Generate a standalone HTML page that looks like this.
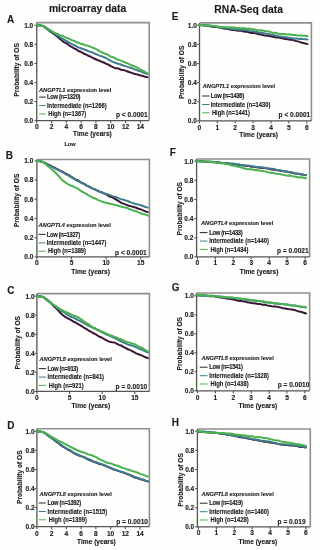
<!DOCTYPE html>
<html><head><meta charset="utf-8"><style>
html,body{margin:0;padding:0;background:#fefefd;}
svg{display:block;filter:blur(0.3px);}
text{font-family:"Liberation Sans", sans-serif;fill:#1a1a1a;font-weight:bold;stroke:#1a1a1a;stroke-width:0.12px;}
</style></head><body>
<svg width="317" height="550" viewBox="0 0 317 550">
<rect width="317" height="550" fill="#fefefd"/>
<text x="87.60" y="12.00" font-size="10.3" text-anchor="middle" >microarray data</text>
<text x="248.60" y="12.60" font-size="10.3" text-anchor="middle" >RNA-Seq data</text>
<text x="64.40" y="145.50" font-size="5.6" text-anchor="start" >Low</text>
<path d="M36.75,22.6 H149.2 V120.6" fill="none" stroke="#8e8e8e" stroke-width="1.6"/>
<path d="M36.75,22.6 V120.6 H149.2" fill="none" stroke="#555555" stroke-width="1.3"/>
<line x1="34.45" y1="120.60" x2="36.75" y2="120.60" stroke="#555555" stroke-width="1.1"/>
<text x="33.25" y="122.90" font-size="6.5" text-anchor="end" >0.0</text>
<line x1="34.45" y1="101.56" x2="36.75" y2="101.56" stroke="#555555" stroke-width="1.1"/>
<text x="33.25" y="103.86" font-size="6.5" text-anchor="end" >0.2</text>
<line x1="34.45" y1="82.52" x2="36.75" y2="82.52" stroke="#555555" stroke-width="1.1"/>
<text x="33.25" y="84.82" font-size="6.5" text-anchor="end" >0.4</text>
<line x1="34.45" y1="63.48" x2="36.75" y2="63.48" stroke="#555555" stroke-width="1.1"/>
<text x="33.25" y="65.78" font-size="6.5" text-anchor="end" >0.6</text>
<line x1="34.45" y1="44.44" x2="36.75" y2="44.44" stroke="#555555" stroke-width="1.1"/>
<text x="33.25" y="46.74" font-size="6.5" text-anchor="end" >0.8</text>
<line x1="34.45" y1="25.40" x2="36.75" y2="25.40" stroke="#555555" stroke-width="1.1"/>
<text x="33.25" y="27.70" font-size="6.5" text-anchor="end" >1.0</text>
<line x1="36.75" y1="120.60" x2="36.75" y2="123.20" stroke="#555555" stroke-width="1.1"/>
<text x="36.75" y="128.70" font-size="6.6" text-anchor="middle" >0</text>
<line x1="51.55" y1="120.60" x2="51.55" y2="123.20" stroke="#555555" stroke-width="1.1"/>
<text x="51.55" y="128.70" font-size="6.6" text-anchor="middle" >2</text>
<line x1="66.35" y1="120.60" x2="66.35" y2="123.20" stroke="#555555" stroke-width="1.1"/>
<text x="66.35" y="128.70" font-size="6.6" text-anchor="middle" >4</text>
<line x1="81.15" y1="120.60" x2="81.15" y2="123.20" stroke="#555555" stroke-width="1.1"/>
<text x="81.15" y="128.70" font-size="6.6" text-anchor="middle" >6</text>
<line x1="95.95" y1="120.60" x2="95.95" y2="123.20" stroke="#555555" stroke-width="1.1"/>
<text x="95.95" y="128.70" font-size="6.6" text-anchor="middle" >8</text>
<line x1="110.75" y1="120.60" x2="110.75" y2="123.20" stroke="#555555" stroke-width="1.1"/>
<text x="110.75" y="128.70" font-size="6.6" text-anchor="middle" >10</text>
<line x1="125.55" y1="120.60" x2="125.55" y2="123.20" stroke="#555555" stroke-width="1.1"/>
<text x="125.55" y="128.70" font-size="6.6" text-anchor="middle" >12</text>
<line x1="140.35" y1="120.60" x2="140.35" y2="123.20" stroke="#555555" stroke-width="1.1"/>
<text x="140.35" y="128.70" font-size="6.6" text-anchor="middle" >14</text>
<text x="92.40" y="135.90" font-size="6.6" text-anchor="middle" >Time (years)</text>
<text x="0.00" y="0.00" font-size="6.6" text-anchor="middle" transform="translate(19.15,69.90) rotate(-90)">Probability of OS</text>
<text x="6.90" y="23.00" font-size="10" text-anchor="start" >A</text>
<path d="M36.75,25.30 L40.00,25.50 L43.50,26.10 L45.85,27.84 L48.20,29.90 L50.55,31.58 L52.90,33.20 L55.30,35.02 L57.70,37.00 L59.80,38.80 L61.90,40.54 L64.00,42.20 L66.04,43.20 L68.08,44.43 L70.12,46.18 L72.16,47.10 L74.20,48.50 L76.33,49.42 L78.45,50.95 L80.58,51.71 L82.70,52.80 L84.76,54.04 L86.82,54.87 L88.88,56.00 L90.94,56.75 L93.00,58.00 L95.16,58.98 L97.32,60.02 L99.48,60.71 L101.64,61.74 L103.80,62.50 L105.96,63.68 L108.12,64.40 L110.28,65.89 L112.44,66.87 L114.60,67.90 L116.76,68.32 L118.92,68.70 L121.08,69.74 L123.24,70.04 L125.40,70.60 L127.56,71.45 L129.72,72.27 L131.88,72.89 L134.04,73.73 L136.20,74.20 L138.46,74.74 L140.72,75.58 L142.98,75.97 L145.24,76.86 L147.50,77.20" fill="none" stroke="#3a1736" stroke-width="2.0" stroke-linejoin="round" stroke-linecap="round"/>
<path d="M36.75,25.30 L40.00,25.50 L43.50,26.10 L45.85,28.03 L48.20,29.50 L50.55,30.76 L52.90,32.50 L55.30,33.93 L57.70,35.80 L59.80,36.86 L61.90,38.55 L64.00,39.50 L66.47,40.90 L68.93,42.44 L71.40,43.80 L73.90,44.95 L76.40,46.34 L78.90,47.60 L80.91,48.25 L82.93,48.94 L84.94,49.79 L86.96,50.51 L88.97,51.41 L90.99,51.99 L93.00,52.60 L95.16,53.76 L97.32,54.61 L99.48,55.59 L101.64,56.30 L103.80,57.10 L105.96,57.98 L108.12,59.48 L110.28,60.62 L112.44,61.66 L114.60,62.50 L116.76,63.26 L118.92,64.07 L121.08,64.49 L123.24,65.58 L125.40,66.10 L127.56,66.86 L129.72,67.41 L131.88,68.00 L134.04,69.19 L136.20,69.70 L138.46,70.89 L140.72,71.25 L142.98,72.58 L145.24,73.25 L147.50,74.20" fill="none" stroke="#3f7c8c" stroke-width="2.0" stroke-linejoin="round" stroke-linecap="round"/>
<path d="M36.75,25.30 L40.00,25.50 L43.50,26.10 L45.85,27.34 L48.20,29.00 L50.55,30.28 L52.90,31.80 L55.30,33.16 L57.70,34.20 L59.80,35.22 L61.90,35.53 L64.00,36.60 L66.13,37.64 L68.27,38.26 L70.40,39.50 L72.53,40.46 L74.65,41.05 L76.78,42.20 L78.90,42.80 L80.91,43.80 L82.93,44.23 L84.94,45.24 L86.96,45.54 L88.97,46.12 L90.99,47.15 L93.00,47.80 L95.16,48.62 L97.32,49.82 L99.48,51.04 L101.64,52.27 L103.80,53.30 L105.96,54.03 L108.12,54.91 L110.28,56.34 L112.44,56.95 L114.60,58.00 L116.76,59.18 L118.92,60.04 L121.08,60.63 L123.24,61.58 L125.40,62.50 L127.56,63.41 L129.72,64.39 L131.88,65.26 L134.04,66.14 L136.20,67.00 L138.46,68.33 L140.72,69.78 L142.98,70.78 L145.24,72.00 L147.50,73.30" fill="none" stroke="#48b24e" stroke-width="2.0" stroke-linejoin="round" stroke-linecap="round"/>
<text transform="translate(39.00,91.60) scale(0.91,1)" font-size="6.264"><tspan font-style="italic">ANGPTL1</tspan> expression level</text>
<line x1="39.20" y1="97.10" x2="45.80" y2="97.10" stroke="#3a1736" stroke-width="1.0"/>
<text transform="translate(47.00,99.20) scale(0.91,1)" font-size="6.373626373626373" text-anchor="start" letter-spacing="-0.33">Low (n=1320)</text>
<line x1="39.20" y1="105.60" x2="45.80" y2="105.60" stroke="#3f7c8c" stroke-width="1.0"/>
<text transform="translate(47.00,107.70) scale(0.91,1)" font-size="6.373626373626373" text-anchor="start" >Intermediate (n=1266)</text>
<line x1="39.20" y1="113.90" x2="45.80" y2="113.90" stroke="#48b24e" stroke-width="1.0"/>
<text transform="translate(48.20,116.00) scale(0.91,1)" font-size="6.373626373626373" text-anchor="start" >High (n=1367)</text>
<text transform="translate(147.70,117.30) scale(0.87,1)" font-size="7.586206896551724" text-anchor="end" >p &lt; 0.0001</text>
<path d="M36.9,159.5 H149.4 V256.9" fill="none" stroke="#8e8e8e" stroke-width="1.6"/>
<path d="M36.9,159.5 V256.9 H149.4" fill="none" stroke="#555555" stroke-width="1.3"/>
<line x1="34.60" y1="256.90" x2="36.90" y2="256.90" stroke="#555555" stroke-width="1.1"/>
<text x="33.40" y="259.20" font-size="6.5" text-anchor="end" >0.0</text>
<line x1="34.60" y1="237.68" x2="36.90" y2="237.68" stroke="#555555" stroke-width="1.1"/>
<text x="33.40" y="239.98" font-size="6.5" text-anchor="end" >0.2</text>
<line x1="34.60" y1="218.46" x2="36.90" y2="218.46" stroke="#555555" stroke-width="1.1"/>
<text x="33.40" y="220.76" font-size="6.5" text-anchor="end" >0.4</text>
<line x1="34.60" y1="199.24" x2="36.90" y2="199.24" stroke="#555555" stroke-width="1.1"/>
<text x="33.40" y="201.54" font-size="6.5" text-anchor="end" >0.6</text>
<line x1="34.60" y1="180.02" x2="36.90" y2="180.02" stroke="#555555" stroke-width="1.1"/>
<text x="33.40" y="182.32" font-size="6.5" text-anchor="end" >0.8</text>
<line x1="34.60" y1="160.80" x2="36.90" y2="160.80" stroke="#555555" stroke-width="1.1"/>
<text x="33.40" y="163.10" font-size="6.5" text-anchor="end" >1.0</text>
<line x1="36.90" y1="256.90" x2="36.90" y2="259.50" stroke="#555555" stroke-width="1.1"/>
<text x="36.90" y="265.20" font-size="6.6" text-anchor="middle" >0</text>
<line x1="71.50" y1="256.90" x2="71.50" y2="259.50" stroke="#555555" stroke-width="1.1"/>
<text x="71.50" y="265.20" font-size="6.6" text-anchor="middle" >5</text>
<line x1="106.10" y1="256.90" x2="106.10" y2="259.50" stroke="#555555" stroke-width="1.1"/>
<text x="106.10" y="265.20" font-size="6.6" text-anchor="middle" >10</text>
<line x1="140.70" y1="256.90" x2="140.70" y2="259.50" stroke="#555555" stroke-width="1.1"/>
<text x="140.70" y="265.20" font-size="6.6" text-anchor="middle" >15</text>
<text x="90.60" y="273.60" font-size="6.6" text-anchor="middle" >Time (years)</text>
<text x="0.00" y="0.00" font-size="6.6" text-anchor="middle" transform="translate(19.15,200.45) rotate(-90)">Probability of OS</text>
<text x="5.70" y="158.90" font-size="10" text-anchor="start" >B</text>
<path d="M36.90,161.00 L40.00,161.30 L43.50,162.20 L45.85,163.53 L48.20,164.60 L50.55,165.64 L52.90,167.00 L55.30,168.03 L57.70,169.30 L59.80,170.69 L61.90,171.51 L64.00,172.60 L66.32,174.01 L68.64,175.07 L70.96,176.69 L73.28,178.17 L75.60,179.50 L77.77,180.36 L79.95,181.87 L82.12,183.03 L84.30,183.84 L86.47,185.33 L88.65,186.38 L90.83,187.66 L93.00,188.70 L95.16,189.55 L97.32,190.70 L99.48,191.66 L101.64,192.17 L103.80,193.40 L105.96,194.18 L108.12,195.59 L110.28,196.80 L112.44,197.41 L114.60,198.60 L117.00,200.07 L119.40,201.66 L121.80,203.10 L124.20,203.89 L126.60,204.82 L129.00,205.80 L131.40,206.35 L133.80,207.05 L136.20,207.80 L138.52,208.72 L140.84,209.40 L143.16,210.31 L145.48,211.40 L147.80,212.10" fill="none" stroke="#3a1736" stroke-width="2.0" stroke-linejoin="round" stroke-linecap="round"/>
<path d="M36.90,161.00 L40.00,161.30 L43.50,162.20 L45.85,163.17 L48.20,164.70 L50.55,165.99 L52.90,167.20 L55.30,168.54 L57.70,169.60 L59.80,170.62 L61.90,171.70 L64.00,173.00 L66.32,174.54 L68.64,175.56 L70.96,176.89 L73.28,178.40 L75.60,179.80 L77.77,181.03 L79.95,181.79 L82.12,183.03 L84.30,184.15 L86.47,185.56 L88.65,186.44 L90.83,187.80 L93.00,188.70 L95.16,189.40 L97.32,190.40 L99.48,191.49 L101.64,192.53 L103.80,193.20 L105.96,193.89 L108.12,194.48 L110.28,195.13 L112.44,196.10 L114.60,196.80 L116.76,197.33 L118.92,198.42 L121.08,199.16 L123.24,199.49 L125.40,200.40 L127.56,200.99 L129.72,202.02 L131.88,202.65 L134.04,203.46 L136.20,204.00 L138.52,204.63 L140.84,205.22 L143.16,206.04 L145.48,207.06 L147.80,207.60" fill="none" stroke="#3f7c8c" stroke-width="2.0" stroke-linejoin="round" stroke-linecap="round"/>
<path d="M36.90,161.00 L40.00,161.30 L43.50,162.30 L45.85,164.26 L48.20,166.50 L50.55,168.26 L52.90,170.20 L55.30,172.55 L57.70,175.00 L60.05,177.60 L62.40,180.30 L65.20,182.20 L68.00,184.20 L70.53,185.59 L73.07,186.26 L75.60,187.60 L77.77,188.57 L79.95,190.39 L82.12,191.62 L84.30,192.94 L86.47,193.87 L88.65,195.45 L90.83,196.69 L93.00,197.70 L95.16,198.43 L97.32,199.65 L99.48,200.60 L101.64,201.40 L103.80,202.20 L105.96,202.75 L108.12,203.15 L110.28,203.72 L112.44,204.20 L114.60,204.90 L116.76,205.18 L118.92,206.03 L121.08,206.39 L123.24,207.25 L125.40,207.60 L127.56,208.05 L129.72,209.28 L131.88,209.88 L134.04,210.73 L136.20,211.20 L138.52,212.34 L140.84,213.24 L143.16,213.95 L145.48,214.51 L147.80,215.70" fill="none" stroke="#48b24e" stroke-width="2.0" stroke-linejoin="round" stroke-linecap="round"/>
<text transform="translate(38.50,226.90) scale(0.91,1)" font-size="6.264"><tspan font-style="italic">ANGPTL4</tspan> expression level</text>
<line x1="38.50" y1="234.40" x2="45.50" y2="234.40" stroke="#3a1736" stroke-width="1.0"/>
<text transform="translate(46.70,236.50) scale(0.91,1)" font-size="6.373626373626373" text-anchor="start" letter-spacing="-0.33">Low (n=1327)</text>
<line x1="38.50" y1="242.90" x2="45.50" y2="242.90" stroke="#3f7c8c" stroke-width="1.0"/>
<text transform="translate(46.70,245.00) scale(0.91,1)" font-size="6.373626373626373" text-anchor="start" >Intermediate (n=1447)</text>
<line x1="38.50" y1="251.20" x2="45.50" y2="251.20" stroke="#48b24e" stroke-width="1.0"/>
<text transform="translate(47.90,253.30) scale(0.91,1)" font-size="6.373626373626373" text-anchor="start" >High (n=1389)</text>
<text transform="translate(146.80,255.00) scale(0.87,1)" font-size="7.586206896551724" text-anchor="end" >p &lt; 0.0001</text>
<path d="M36.9,293.6 H149.4 V391.4" fill="none" stroke="#8e8e8e" stroke-width="1.6"/>
<path d="M36.9,293.6 V391.4 H149.4" fill="none" stroke="#555555" stroke-width="1.3"/>
<line x1="34.60" y1="391.40" x2="36.90" y2="391.40" stroke="#555555" stroke-width="1.1"/>
<text x="34.60" y="394.30" font-size="6.5" text-anchor="end" >0.0</text>
<line x1="34.60" y1="372.34" x2="36.90" y2="372.34" stroke="#555555" stroke-width="1.1"/>
<text x="34.60" y="375.24" font-size="6.5" text-anchor="end" >0.2</text>
<line x1="34.60" y1="353.28" x2="36.90" y2="353.28" stroke="#555555" stroke-width="1.1"/>
<text x="34.60" y="356.18" font-size="6.5" text-anchor="end" >0.4</text>
<line x1="34.60" y1="334.22" x2="36.90" y2="334.22" stroke="#555555" stroke-width="1.1"/>
<text x="34.60" y="337.12" font-size="6.5" text-anchor="end" >0.6</text>
<line x1="34.60" y1="315.16" x2="36.90" y2="315.16" stroke="#555555" stroke-width="1.1"/>
<text x="34.60" y="318.06" font-size="6.5" text-anchor="end" >0.8</text>
<line x1="34.60" y1="296.10" x2="36.90" y2="296.10" stroke="#555555" stroke-width="1.1"/>
<text x="34.60" y="299.00" font-size="6.5" text-anchor="end" >1.0</text>
<line x1="36.90" y1="391.40" x2="36.90" y2="394.00" stroke="#555555" stroke-width="1.1"/>
<text x="36.90" y="399.90" font-size="6.6" text-anchor="middle" >0</text>
<line x1="69.55" y1="391.40" x2="69.55" y2="394.00" stroke="#555555" stroke-width="1.1"/>
<text x="69.55" y="399.90" font-size="6.6" text-anchor="middle" >5</text>
<line x1="102.20" y1="391.40" x2="102.20" y2="394.00" stroke="#555555" stroke-width="1.1"/>
<text x="102.20" y="399.90" font-size="6.6" text-anchor="middle" >10</text>
<line x1="134.85" y1="391.40" x2="134.85" y2="394.00" stroke="#555555" stroke-width="1.1"/>
<text x="134.85" y="399.90" font-size="6.6" text-anchor="middle" >15</text>
<text x="90.80" y="407.70" font-size="6.6" text-anchor="middle" >Time (years)</text>
<text x="0.00" y="0.00" font-size="6.6" text-anchor="middle" transform="translate(20.15,342.75) rotate(-90)">Probability of OS</text>
<text x="7.20" y="293.60" font-size="10" text-anchor="start" >C</text>
<path d="M36.90,296.10 L40.00,296.40 L43.50,297.10 L45.85,299.15 L48.20,300.90 L50.55,302.85 L52.90,305.20 L55.30,307.43 L57.70,309.90 L60.05,312.50 L62.40,314.90 L66.00,317.40 L68.40,318.69 L70.80,319.90 L73.20,321.49 L75.60,322.50 L77.77,323.88 L79.95,325.03 L82.12,326.29 L84.30,327.97 L86.47,329.05 L88.65,330.54 L90.83,331.60 L93.00,333.00 L95.16,334.00 L97.32,335.38 L99.48,336.73 L101.64,337.52 L103.80,338.90 L106.50,340.43 L109.20,341.60 L111.90,342.30 L114.60,342.50 L116.76,343.76 L118.92,344.85 L121.08,345.44 L123.24,346.90 L125.40,347.90 L127.56,349.20 L129.72,349.79 L131.88,351.00 L134.04,352.08 L136.20,353.30 L138.54,354.28 L140.88,355.17 L143.22,356.16 L145.56,357.31 L147.90,358.10" fill="none" stroke="#3a1736" stroke-width="2.0" stroke-linejoin="round" stroke-linecap="round"/>
<path d="M36.90,296.10 L40.00,296.40 L43.50,297.10 L45.85,298.60 L48.20,300.70 L50.55,302.43 L52.90,304.70 L55.30,306.28 L57.70,308.30 L61.20,310.90 L63.30,311.94 L65.40,313.17 L67.50,314.70 L69.62,316.08 L71.75,317.11 L73.88,317.75 L76.00,319.10 L78.12,320.20 L80.25,321.19 L82.38,322.29 L84.50,323.41 L86.62,324.69 L88.75,325.75 L90.88,326.72 L93.00,327.90 L95.16,328.77 L97.32,329.92 L99.48,330.85 L101.64,332.17 L103.80,333.20 L105.96,334.33 L108.12,335.13 L110.28,335.95 L112.44,337.01 L114.60,338.20 L116.76,339.16 L118.92,340.34 L121.08,341.49 L123.24,342.29 L125.40,343.40 L127.56,344.34 L129.72,344.99 L131.88,345.64 L134.04,346.36 L136.20,347.20 L138.54,348.24 L140.88,349.40 L143.22,350.27 L145.56,351.48 L147.90,352.40" fill="none" stroke="#3f7c8c" stroke-width="2.0" stroke-linejoin="round" stroke-linecap="round"/>
<path d="M36.90,296.10 L40.00,296.40 L43.50,297.10 L45.85,298.78 L48.20,300.50 L50.55,302.20 L52.90,304.20 L55.30,305.92 L57.70,307.60 L59.80,308.95 L61.90,309.81 L64.00,311.30 L66.32,312.23 L68.64,313.22 L70.96,314.47 L73.28,315.48 L75.60,316.20 L79.20,318.00 L81.50,319.49 L83.80,321.37 L86.10,322.87 L88.40,324.12 L90.70,325.81 L93.00,327.40 L95.16,328.17 L97.32,329.59 L99.48,330.50 L101.64,331.63 L103.80,332.40 L105.96,333.48 L108.12,334.30 L110.28,335.24 L112.44,336.04 L114.60,336.90 L116.76,337.56 L118.92,338.75 L121.08,339.30 L123.24,340.29 L125.40,341.40 L127.56,342.28 L129.72,342.57 L131.88,343.32 L134.04,344.04 L136.20,345.00 L138.54,346.49 L140.88,347.33 L143.22,348.49 L145.56,350.24 L147.90,351.30" fill="none" stroke="#48b24e" stroke-width="2.0" stroke-linejoin="round" stroke-linecap="round"/>
<text transform="translate(39.50,361.20) scale(0.91,1)" font-size="6.264"><tspan font-style="italic">ANGPTL5</tspan> expression level</text>
<line x1="38.80" y1="368.60" x2="46.10" y2="368.60" stroke="#3a1736" stroke-width="1.0"/>
<text transform="translate(47.60,370.70) scale(0.91,1)" font-size="6.373626373626373" text-anchor="start" letter-spacing="-0.33">Low (n=913)</text>
<line x1="38.80" y1="377.10" x2="46.10" y2="377.10" stroke="#3f7c8c" stroke-width="1.0"/>
<text transform="translate(47.60,379.20) scale(0.91,1)" font-size="6.373626373626373" text-anchor="start" >Intermediate (n=841)</text>
<line x1="38.80" y1="385.40" x2="46.10" y2="385.40" stroke="#48b24e" stroke-width="1.0"/>
<text transform="translate(48.80,387.50) scale(0.91,1)" font-size="6.373626373626373" text-anchor="start" >High (n=921)</text>
<text transform="translate(147.30,389.10) scale(0.87,1)" font-size="7.586206896551724" text-anchor="end" >p = 0.0010</text>
<path d="M36.9,428.8 H149.4 V526.6" fill="none" stroke="#8e8e8e" stroke-width="1.6"/>
<path d="M36.9,428.8 V526.6 H149.4" fill="none" stroke="#555555" stroke-width="1.3"/>
<line x1="34.60" y1="526.60" x2="36.90" y2="526.60" stroke="#555555" stroke-width="1.1"/>
<text x="34.60" y="529.40" font-size="6.5" text-anchor="end" >0.0</text>
<line x1="34.60" y1="507.56" x2="36.90" y2="507.56" stroke="#555555" stroke-width="1.1"/>
<text x="34.60" y="510.36" font-size="6.5" text-anchor="end" >0.2</text>
<line x1="34.60" y1="488.52" x2="36.90" y2="488.52" stroke="#555555" stroke-width="1.1"/>
<text x="34.60" y="491.32" font-size="6.5" text-anchor="end" >0.4</text>
<line x1="34.60" y1="469.48" x2="36.90" y2="469.48" stroke="#555555" stroke-width="1.1"/>
<text x="34.60" y="472.28" font-size="6.5" text-anchor="end" >0.6</text>
<line x1="34.60" y1="450.44" x2="36.90" y2="450.44" stroke="#555555" stroke-width="1.1"/>
<text x="34.60" y="453.24" font-size="6.5" text-anchor="end" >0.8</text>
<line x1="34.60" y1="431.40" x2="36.90" y2="431.40" stroke="#555555" stroke-width="1.1"/>
<text x="34.60" y="434.20" font-size="6.5" text-anchor="end" >1.0</text>
<line x1="36.90" y1="526.60" x2="36.90" y2="529.20" stroke="#555555" stroke-width="1.1"/>
<text x="36.90" y="535.90" font-size="6.6" text-anchor="middle" >0</text>
<line x1="51.64" y1="526.60" x2="51.64" y2="529.20" stroke="#555555" stroke-width="1.1"/>
<text x="51.64" y="535.90" font-size="6.6" text-anchor="middle" >2</text>
<line x1="66.38" y1="526.60" x2="66.38" y2="529.20" stroke="#555555" stroke-width="1.1"/>
<text x="66.38" y="535.90" font-size="6.6" text-anchor="middle" >4</text>
<line x1="81.12" y1="526.60" x2="81.12" y2="529.20" stroke="#555555" stroke-width="1.1"/>
<text x="81.12" y="535.90" font-size="6.6" text-anchor="middle" >6</text>
<line x1="95.86" y1="526.60" x2="95.86" y2="529.20" stroke="#555555" stroke-width="1.1"/>
<text x="95.86" y="535.90" font-size="6.6" text-anchor="middle" >8</text>
<line x1="110.60" y1="526.60" x2="110.60" y2="529.20" stroke="#555555" stroke-width="1.1"/>
<text x="110.60" y="535.90" font-size="6.6" text-anchor="middle" >10</text>
<line x1="125.34" y1="526.60" x2="125.34" y2="529.20" stroke="#555555" stroke-width="1.1"/>
<text x="125.34" y="535.90" font-size="6.6" text-anchor="middle" >12</text>
<line x1="140.08" y1="526.60" x2="140.08" y2="529.20" stroke="#555555" stroke-width="1.1"/>
<text x="140.08" y="535.90" font-size="6.6" text-anchor="middle" >14</text>
<text x="96.40" y="543.60" font-size="6.6" text-anchor="middle" >Time (years)</text>
<text x="0.00" y="0.00" font-size="6.6" text-anchor="middle" transform="translate(21.85,477.15) rotate(-90)">Probability of OS</text>
<text x="7.20" y="428.90" font-size="10" text-anchor="start" >D</text>
<path d="M36.90,431.30 L40.00,431.50 L43.50,432.30 L45.85,433.72 L48.20,435.60 L50.55,437.46 L52.90,438.90 L55.30,440.90 L57.70,442.70 L60.07,444.57 L62.43,446.30 L64.80,447.70 L66.96,449.01 L69.12,450.40 L71.28,451.20 L73.44,452.90 L75.60,454.00 L78.00,454.97 L80.40,456.06 L82.80,456.90 L84.84,457.60 L86.88,458.93 L88.92,459.98 L90.96,460.40 L93.00,461.60 L95.16,462.21 L97.32,463.08 L99.48,463.96 L101.64,464.33 L103.80,465.20 L105.96,465.91 L108.12,466.85 L110.28,467.97 L112.44,468.95 L114.60,469.70 L116.76,470.38 L118.92,471.10 L121.08,471.86 L123.24,472.57 L125.40,473.40 L127.56,474.23 L129.72,474.91 L131.88,476.04 L134.04,477.20 L136.20,477.80 L138.54,478.47 L140.88,479.39 L143.22,479.76 L145.56,480.79 L147.90,481.40" fill="none" stroke="#3a1736" stroke-width="2.0" stroke-linejoin="round" stroke-linecap="round"/>
<path d="M36.90,431.30 L40.00,431.50 L43.50,432.30 L45.85,434.00 L48.20,435.40 L50.55,437.10 L52.90,438.60 L55.30,440.46 L57.70,442.30 L60.07,443.99 L62.43,445.79 L64.80,447.40 L66.96,448.90 L69.12,449.71 L71.28,450.94 L73.44,452.59 L75.60,453.70 L78.00,454.92 L80.40,455.64 L82.80,456.60 L84.84,457.49 L86.88,458.57 L88.92,459.17 L90.96,460.14 L93.00,461.20 L95.16,461.78 L97.32,462.77 L99.48,463.37 L101.64,464.08 L103.80,465.00 L105.96,466.01 L108.12,467.07 L110.28,467.58 L112.44,468.72 L114.60,469.50 L116.76,470.17 L118.92,471.15 L121.08,471.71 L123.24,472.24 L125.40,473.10 L127.56,473.83 L129.72,474.61 L131.88,475.79 L134.04,476.63 L136.20,477.60 L138.54,478.12 L140.88,478.96 L143.22,479.65 L145.56,480.64 L147.90,481.20" fill="none" stroke="#3f7c8c" stroke-width="2.0" stroke-linejoin="round" stroke-linecap="round"/>
<path d="M36.90,431.30 L40.00,431.50 L43.50,432.30 L45.85,433.24 L48.20,434.60 L50.55,436.34 L52.90,437.50 L55.30,438.89 L57.70,440.30 L59.80,441.36 L61.90,442.28 L64.00,443.30 L66.32,444.74 L68.64,445.97 L70.96,447.05 L73.28,448.25 L75.60,449.50 L78.00,450.53 L80.40,451.51 L82.80,452.20 L84.84,452.86 L86.88,453.78 L88.92,454.64 L90.96,455.06 L93.00,455.80 L95.16,456.72 L97.32,457.80 L99.48,459.17 L101.64,460.23 L103.80,461.20 L105.96,462.24 L108.12,462.93 L110.28,463.33 L112.44,464.05 L114.60,465.00 L116.76,465.58 L118.92,466.25 L121.08,467.28 L123.24,468.10 L125.40,468.60 L127.56,469.56 L129.72,469.89 L131.88,470.98 L134.04,471.37 L136.20,472.20 L138.54,473.05 L140.88,474.14 L143.22,474.65 L145.56,475.56 L147.90,476.70" fill="none" stroke="#48b24e" stroke-width="2.0" stroke-linejoin="round" stroke-linecap="round"/>
<text transform="translate(39.50,495.90) scale(0.91,1)" font-size="6.264"><tspan font-style="italic">ANGPTL8</tspan> expression level</text>
<line x1="38.80" y1="503.00" x2="45.80" y2="503.00" stroke="#3a1736" stroke-width="1.0"/>
<text transform="translate(47.60,505.10) scale(0.91,1)" font-size="6.373626373626373" text-anchor="start" letter-spacing="-0.33">Low (n=1392)</text>
<line x1="38.80" y1="511.50" x2="45.80" y2="511.50" stroke="#3f7c8c" stroke-width="1.0"/>
<text transform="translate(47.60,513.60) scale(0.91,1)" font-size="6.373626373626373" text-anchor="start" >Intermediate (n=1515)</text>
<line x1="38.80" y1="519.80" x2="45.80" y2="519.80" stroke="#48b24e" stroke-width="1.0"/>
<text transform="translate(48.80,521.90) scale(0.91,1)" font-size="6.373626373626373" text-anchor="start" >High (n=1399)</text>
<text transform="translate(148.00,523.80) scale(0.87,1)" font-size="7.586206896551724" text-anchor="end" >p = 0.0010</text>
<path d="M199.5,22.9 H311.4 V120.9" fill="none" stroke="#8e8e8e" stroke-width="1.6"/>
<path d="M199.5,22.9 V120.9 H311.4" fill="none" stroke="#555555" stroke-width="1.3"/>
<line x1="197.20" y1="120.90" x2="199.50" y2="120.90" stroke="#555555" stroke-width="1.1"/>
<text x="196.90" y="123.20" font-size="6.5" text-anchor="end" >0.0</text>
<line x1="197.20" y1="101.78" x2="199.50" y2="101.78" stroke="#555555" stroke-width="1.1"/>
<text x="196.90" y="104.08" font-size="6.5" text-anchor="end" >0.2</text>
<line x1="197.20" y1="82.66" x2="199.50" y2="82.66" stroke="#555555" stroke-width="1.1"/>
<text x="196.90" y="84.96" font-size="6.5" text-anchor="end" >0.4</text>
<line x1="197.20" y1="63.54" x2="199.50" y2="63.54" stroke="#555555" stroke-width="1.1"/>
<text x="196.90" y="65.84" font-size="6.5" text-anchor="end" >0.6</text>
<line x1="197.20" y1="44.42" x2="199.50" y2="44.42" stroke="#555555" stroke-width="1.1"/>
<text x="196.90" y="46.72" font-size="6.5" text-anchor="end" >0.8</text>
<line x1="197.20" y1="25.30" x2="199.50" y2="25.30" stroke="#555555" stroke-width="1.1"/>
<text x="196.90" y="27.60" font-size="6.5" text-anchor="end" >1.0</text>
<line x1="199.40" y1="120.90" x2="199.40" y2="123.50" stroke="#555555" stroke-width="1.1"/>
<text x="199.40" y="129.80" font-size="6.6" text-anchor="middle" >0</text>
<line x1="217.30" y1="120.90" x2="217.30" y2="123.50" stroke="#555555" stroke-width="1.1"/>
<text x="217.30" y="129.80" font-size="6.6" text-anchor="middle" >1</text>
<line x1="235.20" y1="120.90" x2="235.20" y2="123.50" stroke="#555555" stroke-width="1.1"/>
<text x="235.20" y="129.80" font-size="6.6" text-anchor="middle" >2</text>
<line x1="253.10" y1="120.90" x2="253.10" y2="123.50" stroke="#555555" stroke-width="1.1"/>
<text x="253.10" y="129.80" font-size="6.6" text-anchor="middle" >3</text>
<line x1="271.00" y1="120.90" x2="271.00" y2="123.50" stroke="#555555" stroke-width="1.1"/>
<text x="271.00" y="129.80" font-size="6.6" text-anchor="middle" >4</text>
<line x1="288.90" y1="120.90" x2="288.90" y2="123.50" stroke="#555555" stroke-width="1.1"/>
<text x="288.90" y="129.80" font-size="6.6" text-anchor="middle" >5</text>
<line x1="306.80" y1="120.90" x2="306.80" y2="123.50" stroke="#555555" stroke-width="1.1"/>
<text x="306.80" y="129.80" font-size="6.6" text-anchor="middle" >6</text>
<text x="258.70" y="137.30" font-size="6.6" text-anchor="middle" >Time (years)</text>
<text x="0.00" y="0.00" font-size="6.6" text-anchor="middle" transform="translate(183.80,72.35) rotate(-90)">Probability of OS</text>
<text x="171.70" y="19.90" font-size="10" text-anchor="start" >E</text>
<path d="M198.90,24.90 L201.12,25.30 L203.35,25.18 L205.58,25.41 L207.80,25.70 L210.20,26.18 L212.60,26.67 L215.00,27.00 L217.16,27.06 L219.32,27.62 L221.48,28.04 L223.64,28.43 L225.80,28.80 L227.96,28.95 L230.12,29.49 L232.28,30.03 L234.44,30.01 L236.60,30.40 L238.72,30.75 L240.85,30.82 L242.97,31.24 L245.10,31.80 L247.22,31.79 L249.35,32.58 L251.47,32.92 L253.60,33.00 L255.88,33.21 L258.17,34.16 L260.45,34.27 L262.73,34.96 L265.02,35.40 L267.30,35.70 L269.57,35.96 L271.83,36.57 L274.10,36.94 L276.37,37.42 L278.63,37.48 L280.90,38.00 L283.17,38.57 L285.43,39.11 L287.70,39.35 L289.97,39.69 L292.23,39.85 L294.50,40.50 L296.67,41.10 L298.83,41.61 L301.00,42.43 L303.17,43.01 L305.33,43.54 L307.50,44.10" fill="none" stroke="#3a1736" stroke-width="2.0" stroke-linejoin="round" stroke-linecap="round"/>
<path d="M198.90,24.90 L201.12,24.88 L203.35,25.34 L205.58,25.50 L207.80,25.60 L210.20,25.74 L212.60,26.50 L215.00,26.60 L217.16,26.99 L219.32,26.97 L221.48,27.76 L223.64,27.58 L225.80,28.10 L227.96,28.26 L230.12,28.75 L232.28,28.94 L234.44,29.17 L236.60,29.40 L238.72,29.71 L240.85,29.82 L242.97,29.96 L245.10,30.11 L247.22,30.27 L249.35,30.88 L251.47,31.13 L253.60,31.20 L255.88,31.68 L258.17,32.24 L260.45,32.47 L262.73,32.86 L265.02,33.38 L267.30,33.90 L269.57,34.57 L271.83,34.53 L274.10,35.25 L276.37,35.55 L278.63,36.31 L280.90,36.60 L283.17,36.83 L285.43,37.13 L287.70,37.49 L289.97,37.89 L292.23,38.35 L294.50,38.50 L296.67,38.60 L298.83,39.07 L301.00,38.82 L303.17,39.10 L305.33,39.18 L307.50,39.60" fill="none" stroke="#3f7c8c" stroke-width="2.0" stroke-linejoin="round" stroke-linecap="round"/>
<path d="M198.90,24.90 L201.12,24.82 L203.35,25.37 L205.58,25.49 L207.80,25.50 L210.20,25.51 L212.60,25.71 L215.00,26.10 L217.16,26.27 L219.32,26.69 L221.48,26.95 L223.64,27.13 L225.80,27.20 L227.96,27.38 L230.12,27.23 L232.28,27.50 L234.44,27.50 L236.60,27.80 L238.72,27.99 L240.85,28.19 L242.97,28.15 L245.10,28.35 L247.22,28.84 L249.35,28.57 L251.47,29.21 L253.60,29.20 L255.88,29.77 L258.17,30.14 L260.45,30.13 L262.73,30.56 L265.02,30.92 L267.30,31.20 L269.57,31.73 L271.83,32.39 L274.10,32.66 L276.37,32.88 L278.63,33.67 L280.90,33.90 L283.17,34.07 L285.43,34.33 L287.70,34.59 L289.97,34.33 L292.23,34.98 L294.50,35.00 L296.67,35.30 L298.83,35.40 L301.00,35.61 L303.17,35.78 L305.33,35.82 L307.50,36.20" fill="none" stroke="#48b24e" stroke-width="2.0" stroke-linejoin="round" stroke-linecap="round"/>
<text transform="translate(202.70,88.10) scale(0.91,1)" font-size="6.264"><tspan font-style="italic">ANGPTL1</tspan> expression level</text>
<line x1="202.20" y1="96.00" x2="209.50" y2="96.00" stroke="#3a1736" stroke-width="1.0"/>
<text transform="translate(210.70,98.10) scale(0.91,1)" font-size="6.373626373626373" text-anchor="start" letter-spacing="-0.33">Low (n=1436)</text>
<line x1="202.20" y1="104.50" x2="209.50" y2="104.50" stroke="#3f7c8c" stroke-width="1.0"/>
<text transform="translate(210.70,106.60) scale(0.91,1)" font-size="6.373626373626373" text-anchor="start" >Intermediate (n=1430)</text>
<line x1="202.20" y1="112.80" x2="209.50" y2="112.80" stroke="#48b24e" stroke-width="1.0"/>
<text transform="translate(211.90,114.90) scale(0.91,1)" font-size="6.373626373626373" text-anchor="start" >High (n=1441)</text>
<text transform="translate(310.30,117.10) scale(0.87,1)" font-size="7.586206896551724" text-anchor="end" >p &lt; 0.0001</text>
<path d="M196.6,159.0 H309.6 V256.9" fill="none" stroke="#8e8e8e" stroke-width="1.6"/>
<path d="M196.6,159.0 V256.9 H309.6" fill="none" stroke="#555555" stroke-width="1.3"/>
<line x1="194.30" y1="256.90" x2="196.60" y2="256.90" stroke="#555555" stroke-width="1.1"/>
<text x="193.40" y="259.20" font-size="6.5" text-anchor="end" >0.0</text>
<line x1="194.30" y1="237.76" x2="196.60" y2="237.76" stroke="#555555" stroke-width="1.1"/>
<text x="193.40" y="240.06" font-size="6.5" text-anchor="end" >0.2</text>
<line x1="194.30" y1="218.62" x2="196.60" y2="218.62" stroke="#555555" stroke-width="1.1"/>
<text x="193.40" y="220.92" font-size="6.5" text-anchor="end" >0.4</text>
<line x1="194.30" y1="199.48" x2="196.60" y2="199.48" stroke="#555555" stroke-width="1.1"/>
<text x="193.40" y="201.78" font-size="6.5" text-anchor="end" >0.6</text>
<line x1="194.30" y1="180.34" x2="196.60" y2="180.34" stroke="#555555" stroke-width="1.1"/>
<text x="193.40" y="182.64" font-size="6.5" text-anchor="end" >0.8</text>
<line x1="194.30" y1="161.20" x2="196.60" y2="161.20" stroke="#555555" stroke-width="1.1"/>
<text x="193.40" y="163.50" font-size="6.5" text-anchor="end" >1.0</text>
<line x1="197.40" y1="256.90" x2="197.40" y2="259.50" stroke="#555555" stroke-width="1.1"/>
<text x="197.40" y="264.90" font-size="6.6" text-anchor="middle" >0</text>
<line x1="215.35" y1="256.90" x2="215.35" y2="259.50" stroke="#555555" stroke-width="1.1"/>
<text x="215.35" y="264.90" font-size="6.6" text-anchor="middle" >1</text>
<line x1="233.30" y1="256.90" x2="233.30" y2="259.50" stroke="#555555" stroke-width="1.1"/>
<text x="233.30" y="264.90" font-size="6.6" text-anchor="middle" >2</text>
<line x1="251.25" y1="256.90" x2="251.25" y2="259.50" stroke="#555555" stroke-width="1.1"/>
<text x="251.25" y="264.90" font-size="6.6" text-anchor="middle" >3</text>
<line x1="269.20" y1="256.90" x2="269.20" y2="259.50" stroke="#555555" stroke-width="1.1"/>
<text x="269.20" y="264.90" font-size="6.6" text-anchor="middle" >4</text>
<line x1="287.15" y1="256.90" x2="287.15" y2="259.50" stroke="#555555" stroke-width="1.1"/>
<text x="287.15" y="264.90" font-size="6.6" text-anchor="middle" >5</text>
<line x1="305.10" y1="256.90" x2="305.10" y2="259.50" stroke="#555555" stroke-width="1.1"/>
<text x="305.10" y="264.90" font-size="6.6" text-anchor="middle" >6</text>
<text x="259.10" y="273.60" font-size="6.6" text-anchor="middle" >Time (years)</text>
<text x="0.00" y="0.00" font-size="6.6" text-anchor="middle" transform="translate(182.05,208.75) rotate(-90)">Probability of OS</text>
<text x="169.80" y="155.70" font-size="10" text-anchor="start" >F</text>
<path d="M196.60,161.20 L198.81,161.32 L201.03,161.12 L203.24,161.50 L205.45,161.69 L207.66,161.67 L209.88,161.84 L212.09,162.18 L214.30,162.00 L216.50,162.50 L218.70,162.30 L220.90,162.96 L223.10,163.11 L225.30,163.30 L227.48,163.25 L229.66,163.66 L231.84,163.80 L234.02,163.93 L236.20,164.40 L238.38,164.72 L240.55,165.26 L242.72,165.19 L244.90,165.82 L247.07,166.02 L249.25,165.98 L251.42,166.71 L253.60,166.80 L255.88,167.13 L258.17,167.59 L260.45,167.73 L262.73,168.01 L265.02,168.04 L267.30,168.40 L269.57,168.98 L271.83,169.46 L274.10,169.82 L276.37,169.96 L278.63,170.55 L280.90,170.80 L283.17,171.22 L285.43,171.43 L287.70,171.83 L289.97,172.28 L292.23,172.79 L294.50,173.40 L296.80,173.56 L299.10,174.12 L301.40,174.60 L303.70,174.86 L306.00,175.20" fill="none" stroke="#3a1736" stroke-width="2.0" stroke-linejoin="round" stroke-linecap="round"/>
<path d="M196.60,161.20 L198.81,161.25 L201.03,161.49 L203.24,161.38 L205.45,161.58 L207.66,161.85 L209.88,161.74 L212.09,161.71 L214.30,162.00 L216.50,162.48 L218.70,162.61 L220.90,162.64 L223.10,162.88 L225.30,163.20 L227.48,163.42 L229.66,163.66 L231.84,163.63 L234.02,163.70 L236.20,164.20 L238.38,164.33 L240.55,164.97 L242.72,164.89 L244.90,165.38 L247.07,165.52 L249.25,165.83 L251.42,166.10 L253.60,166.60 L255.88,166.81 L258.17,166.93 L260.45,167.12 L262.73,167.43 L265.02,167.73 L267.30,168.20 L269.57,168.58 L271.83,168.70 L274.10,169.06 L276.37,169.70 L278.63,170.06 L280.90,170.50 L283.17,171.07 L285.43,171.13 L287.70,171.79 L289.97,172.24 L292.23,172.47 L294.50,173.20 L296.80,173.84 L299.10,173.75 L301.40,174.04 L303.70,174.62 L306.00,175.00" fill="none" stroke="#3f7c8c" stroke-width="2.0" stroke-linejoin="round" stroke-linecap="round"/>
<path d="M196.60,161.20 L198.81,161.11 L201.03,161.50 L203.24,161.45 L205.45,161.42 L207.66,161.49 L209.88,162.01 L212.09,161.85 L214.30,162.10 L216.50,162.61 L218.70,162.76 L220.90,163.38 L223.10,163.34 L225.30,163.80 L227.48,164.15 L229.66,164.66 L231.84,165.49 L234.02,165.88 L236.20,166.30 L238.67,166.84 L241.13,167.32 L243.60,168.20 L245.60,168.65 L247.60,169.16 L249.60,169.28 L251.60,169.26 L253.60,169.90 L255.88,169.97 L258.17,170.35 L260.45,170.75 L262.73,171.02 L265.02,171.38 L267.30,172.00 L269.57,172.48 L271.83,173.01 L274.10,172.97 L276.37,173.82 L278.63,173.90 L280.90,174.30 L283.17,174.87 L285.43,175.32 L287.70,175.71 L289.97,175.55 L292.23,176.10 L294.50,176.60 L296.80,176.98 L299.10,177.51 L301.40,177.31 L303.70,177.76 L306.00,178.20" fill="none" stroke="#48b24e" stroke-width="2.0" stroke-linejoin="round" stroke-linecap="round"/>
<text transform="translate(201.00,225.30) scale(0.91,1)" font-size="6.264"><tspan font-style="italic">ANGPTL4</tspan> expression level</text>
<line x1="199.80" y1="232.60" x2="207.50" y2="232.60" stroke="#3a1736" stroke-width="1.0"/>
<text transform="translate(209.20,234.70) scale(0.91,1)" font-size="6.373626373626373" text-anchor="start" letter-spacing="-0.33">Low (n=1433)</text>
<line x1="199.80" y1="241.10" x2="207.50" y2="241.10" stroke="#3f7c8c" stroke-width="1.0"/>
<text transform="translate(209.20,243.20) scale(0.91,1)" font-size="6.373626373626373" text-anchor="start" >Intermediate (n=1440)</text>
<line x1="199.80" y1="249.40" x2="207.50" y2="249.40" stroke="#48b24e" stroke-width="1.0"/>
<text transform="translate(210.40,251.50) scale(0.91,1)" font-size="6.373626373626373" text-anchor="start" >High (n=1434)</text>
<text transform="translate(308.70,253.10) scale(0.87,1)" font-size="7.586206896551724" text-anchor="end" >p = 0.0021</text>
<path d="M196.6,293.0 H309.6 V390.8" fill="none" stroke="#8e8e8e" stroke-width="1.6"/>
<path d="M196.6,293.0 V390.8 H309.6" fill="none" stroke="#555555" stroke-width="1.3"/>
<line x1="194.30" y1="390.80" x2="196.60" y2="390.80" stroke="#555555" stroke-width="1.1"/>
<text x="193.90" y="393.10" font-size="6.5" text-anchor="end" >0.0</text>
<line x1="194.30" y1="371.80" x2="196.60" y2="371.80" stroke="#555555" stroke-width="1.1"/>
<text x="193.90" y="374.10" font-size="6.5" text-anchor="end" >0.2</text>
<line x1="194.30" y1="352.80" x2="196.60" y2="352.80" stroke="#555555" stroke-width="1.1"/>
<text x="193.90" y="355.10" font-size="6.5" text-anchor="end" >0.4</text>
<line x1="194.30" y1="333.80" x2="196.60" y2="333.80" stroke="#555555" stroke-width="1.1"/>
<text x="193.90" y="336.10" font-size="6.5" text-anchor="end" >0.6</text>
<line x1="194.30" y1="314.80" x2="196.60" y2="314.80" stroke="#555555" stroke-width="1.1"/>
<text x="193.90" y="317.10" font-size="6.5" text-anchor="end" >0.8</text>
<line x1="194.30" y1="295.80" x2="196.60" y2="295.80" stroke="#555555" stroke-width="1.1"/>
<text x="193.90" y="298.10" font-size="6.5" text-anchor="end" >1.0</text>
<line x1="197.50" y1="390.80" x2="197.50" y2="393.40" stroke="#555555" stroke-width="1.1"/>
<text x="197.50" y="399.50" font-size="6.6" text-anchor="middle" >0</text>
<line x1="215.40" y1="390.80" x2="215.40" y2="393.40" stroke="#555555" stroke-width="1.1"/>
<text x="215.40" y="399.50" font-size="6.6" text-anchor="middle" >1</text>
<line x1="233.30" y1="390.80" x2="233.30" y2="393.40" stroke="#555555" stroke-width="1.1"/>
<text x="233.30" y="399.50" font-size="6.6" text-anchor="middle" >2</text>
<line x1="251.20" y1="390.80" x2="251.20" y2="393.40" stroke="#555555" stroke-width="1.1"/>
<text x="251.20" y="399.50" font-size="6.6" text-anchor="middle" >3</text>
<line x1="269.10" y1="390.80" x2="269.10" y2="393.40" stroke="#555555" stroke-width="1.1"/>
<text x="269.10" y="399.50" font-size="6.6" text-anchor="middle" >4</text>
<line x1="287.00" y1="390.80" x2="287.00" y2="393.40" stroke="#555555" stroke-width="1.1"/>
<text x="287.00" y="399.50" font-size="6.6" text-anchor="middle" >5</text>
<line x1="304.90" y1="390.80" x2="304.90" y2="393.40" stroke="#555555" stroke-width="1.1"/>
<text x="304.90" y="399.50" font-size="6.6" text-anchor="middle" >6</text>
<text x="257.90" y="407.70" font-size="6.6" text-anchor="middle" >Time (years)</text>
<text x="0.00" y="0.00" font-size="6.6" text-anchor="middle" transform="translate(182.25,343.75) rotate(-90)">Probability of OS</text>
<text x="171.70" y="291.00" font-size="10" text-anchor="start" >G</text>
<path d="M196.60,295.10 L198.81,295.46 L201.03,295.17 L203.24,295.48 L205.45,295.60 L207.66,295.96 L209.88,296.26 L212.09,295.95 L214.30,296.30 L216.50,296.80 L218.70,297.16 L220.90,297.58 L223.10,297.77 L225.30,298.10 L227.48,298.77 L229.66,298.86 L231.84,299.31 L234.02,299.62 L236.20,300.20 L238.38,300.74 L240.55,300.94 L242.72,301.19 L244.90,301.50 L247.07,302.21 L249.25,302.51 L251.42,302.95 L253.60,303.20 L255.88,303.50 L258.17,303.93 L260.45,304.09 L262.73,304.79 L265.02,304.75 L267.30,305.40 L269.57,305.75 L271.83,306.29 L274.10,306.61 L276.37,306.62 L278.63,307.08 L280.90,307.60 L283.17,308.19 L285.43,308.45 L287.70,308.98 L289.97,309.36 L292.23,309.49 L294.50,309.90 L296.80,310.86 L299.10,311.48 L301.40,311.96 L303.70,312.70 L306.00,313.50" fill="none" stroke="#3a1736" stroke-width="2.0" stroke-linejoin="round" stroke-linecap="round"/>
<path d="M196.60,295.10 L198.81,294.98 L201.03,295.31 L203.24,295.79 L205.45,295.41 L207.66,295.83 L209.88,295.69 L212.09,295.81 L214.30,296.20 L216.50,296.51 L218.70,296.48 L220.90,296.59 L223.10,296.87 L225.30,297.30 L227.48,297.59 L229.66,297.75 L231.84,297.61 L234.02,297.94 L236.20,298.30 L238.38,298.87 L240.55,298.71 L242.72,299.20 L244.90,299.40 L247.07,299.91 L249.25,300.09 L251.42,300.49 L253.60,300.60 L255.88,300.92 L258.17,301.01 L260.45,301.31 L262.73,301.55 L265.02,302.30 L267.30,302.40 L269.57,302.43 L271.83,302.65 L274.10,303.48 L276.37,303.29 L278.63,303.97 L280.90,304.00 L283.17,304.02 L285.43,304.51 L287.70,304.63 L289.97,305.26 L292.23,305.40 L294.50,305.60 L296.80,306.05 L299.10,306.48 L301.40,306.90 L303.70,306.95 L306.00,307.40" fill="none" stroke="#3f7c8c" stroke-width="2.0" stroke-linejoin="round" stroke-linecap="round"/>
<path d="M196.60,295.10 L198.81,295.29 L201.03,295.32 L203.24,295.24 L205.45,295.80 L207.66,295.78 L209.88,296.04 L212.09,295.80 L214.30,296.10 L216.50,296.34 L218.70,296.52 L220.90,296.90 L223.10,296.73 L225.30,297.20 L227.48,297.29 L229.66,297.55 L231.84,297.48 L234.02,297.95 L236.20,298.10 L238.38,298.50 L240.55,298.58 L242.72,298.98 L244.90,299.21 L247.07,299.24 L249.25,299.59 L251.42,300.23 L253.60,300.20 L255.88,300.43 L258.17,300.83 L260.45,300.95 L262.73,301.36 L265.02,301.67 L267.30,302.20 L269.57,302.73 L271.83,302.87 L274.10,303.22 L276.37,303.56 L278.63,303.60 L280.90,303.80 L283.17,304.33 L285.43,304.35 L287.70,304.55 L289.97,305.14 L292.23,305.38 L294.50,305.40 L296.80,306.03 L299.10,306.11 L301.40,306.64 L303.70,306.78 L306.00,307.20" fill="none" stroke="#48b24e" stroke-width="2.0" stroke-linejoin="round" stroke-linecap="round"/>
<text transform="translate(201.40,359.80) scale(0.91,1)" font-size="6.264"><tspan font-style="italic">ANGPTL5</tspan> expression level</text>
<line x1="199.80" y1="367.20" x2="207.50" y2="367.20" stroke="#3a1736" stroke-width="1.0"/>
<text transform="translate(209.30,369.30) scale(0.91,1)" font-size="6.373626373626373" text-anchor="start" letter-spacing="-0.33">Low (n=1541)</text>
<line x1="199.80" y1="375.70" x2="207.50" y2="375.70" stroke="#3f7c8c" stroke-width="1.0"/>
<text transform="translate(209.30,377.80) scale(0.91,1)" font-size="6.373626373626373" text-anchor="start" >Intermediate (n=1328)</text>
<line x1="199.80" y1="384.00" x2="207.50" y2="384.00" stroke="#48b24e" stroke-width="1.0"/>
<text transform="translate(210.50,386.10) scale(0.91,1)" font-size="6.373626373626373" text-anchor="start" >High (n=1438)</text>
<text transform="translate(309.40,387.10) scale(0.87,1)" font-size="7.586206896551724" text-anchor="end" >p = 0.0010</text>
<path d="M197.4,429.0 H310.3 V526.9" fill="none" stroke="#8e8e8e" stroke-width="1.6"/>
<path d="M197.4,429.0 V526.9 H310.3" fill="none" stroke="#555555" stroke-width="1.3"/>
<line x1="195.10" y1="526.90" x2="197.40" y2="526.90" stroke="#555555" stroke-width="1.1"/>
<text x="194.20" y="529.20" font-size="6.5" text-anchor="end" >0.0</text>
<line x1="195.10" y1="507.76" x2="197.40" y2="507.76" stroke="#555555" stroke-width="1.1"/>
<text x="194.20" y="510.06" font-size="6.5" text-anchor="end" >0.2</text>
<line x1="195.10" y1="488.62" x2="197.40" y2="488.62" stroke="#555555" stroke-width="1.1"/>
<text x="194.20" y="490.92" font-size="6.5" text-anchor="end" >0.4</text>
<line x1="195.10" y1="469.48" x2="197.40" y2="469.48" stroke="#555555" stroke-width="1.1"/>
<text x="194.20" y="471.78" font-size="6.5" text-anchor="end" >0.6</text>
<line x1="195.10" y1="450.34" x2="197.40" y2="450.34" stroke="#555555" stroke-width="1.1"/>
<text x="194.20" y="452.64" font-size="6.5" text-anchor="end" >0.8</text>
<line x1="195.10" y1="431.20" x2="197.40" y2="431.20" stroke="#555555" stroke-width="1.1"/>
<text x="194.20" y="433.50" font-size="6.5" text-anchor="end" >1.0</text>
<line x1="198.50" y1="526.90" x2="198.50" y2="529.50" stroke="#555555" stroke-width="1.1"/>
<text x="198.50" y="535.20" font-size="6.6" text-anchor="middle" >0</text>
<line x1="216.40" y1="526.90" x2="216.40" y2="529.50" stroke="#555555" stroke-width="1.1"/>
<text x="216.40" y="535.20" font-size="6.6" text-anchor="middle" >1</text>
<line x1="234.30" y1="526.90" x2="234.30" y2="529.50" stroke="#555555" stroke-width="1.1"/>
<text x="234.30" y="535.20" font-size="6.6" text-anchor="middle" >2</text>
<line x1="252.20" y1="526.90" x2="252.20" y2="529.50" stroke="#555555" stroke-width="1.1"/>
<text x="252.20" y="535.20" font-size="6.6" text-anchor="middle" >3</text>
<line x1="270.10" y1="526.90" x2="270.10" y2="529.50" stroke="#555555" stroke-width="1.1"/>
<text x="270.10" y="535.20" font-size="6.6" text-anchor="middle" >4</text>
<line x1="288.00" y1="526.90" x2="288.00" y2="529.50" stroke="#555555" stroke-width="1.1"/>
<text x="288.00" y="535.20" font-size="6.6" text-anchor="middle" >5</text>
<line x1="305.90" y1="526.90" x2="305.90" y2="529.50" stroke="#555555" stroke-width="1.1"/>
<text x="305.90" y="535.20" font-size="6.6" text-anchor="middle" >6</text>
<text x="257.90" y="543.60" font-size="6.6" text-anchor="middle" >Time (years)</text>
<text x="0.00" y="0.00" font-size="6.6" text-anchor="middle" transform="translate(182.65,479.95) rotate(-90)">Probability of OS</text>
<text x="171.70" y="426.10" font-size="10" text-anchor="start" >H</text>
<path d="M197.40,431.40 L199.51,431.86 L201.62,431.98 L203.74,431.76 L205.85,432.31 L207.96,432.02 L210.08,432.13 L212.19,432.67 L214.30,432.70 L216.50,432.88 L218.70,433.31 L220.90,433.68 L223.10,433.62 L225.30,434.20 L227.48,434.75 L229.66,434.87 L231.84,435.36 L234.02,435.71 L236.20,436.20 L238.38,436.78 L240.55,437.22 L242.72,437.38 L244.90,437.71 L247.07,438.27 L249.25,438.77 L251.42,439.01 L253.60,439.70 L255.88,439.84 L258.17,440.56 L260.45,440.87 L262.73,441.39 L265.02,441.74 L267.30,441.80 L269.57,442.49 L271.83,442.66 L274.10,443.00 L276.37,443.55 L278.63,444.11 L280.90,444.60 L283.17,444.82 L285.43,445.03 L287.70,445.12 L289.97,445.61 L292.23,445.47 L294.50,445.80 L296.80,446.10 L299.10,446.67 L301.40,446.94 L303.70,446.96 L306.00,447.40" fill="none" stroke="#3a1736" stroke-width="2.0" stroke-linejoin="round" stroke-linecap="round"/>
<path d="M197.40,431.40 L199.51,431.41 L201.62,431.91 L203.74,431.59 L205.85,431.83 L207.96,432.23 L210.08,432.40 L212.19,432.34 L214.30,432.70 L216.50,432.71 L218.70,433.08 L220.90,433.70 L223.10,433.80 L225.30,434.10 L227.48,434.77 L229.66,435.03 L231.84,435.53 L234.02,435.34 L236.20,436.00 L238.38,436.24 L240.55,436.56 L242.72,437.23 L244.90,437.60 L247.07,437.86 L249.25,438.58 L251.42,438.73 L253.60,439.40 L255.88,439.62 L258.17,439.92 L260.45,440.58 L262.73,440.68 L265.02,440.92 L267.30,441.40 L269.57,441.59 L271.83,442.29 L274.10,442.88 L276.37,443.37 L278.63,443.98 L280.90,444.20 L283.17,444.59 L285.43,444.45 L287.70,444.58 L289.97,445.15 L292.23,445.37 L294.50,445.40 L296.80,445.77 L299.10,446.32 L301.40,446.51 L303.70,446.71 L306.00,447.20" fill="none" stroke="#3f7c8c" stroke-width="2.0" stroke-linejoin="round" stroke-linecap="round"/>
<path d="M197.40,431.40 L199.51,431.35 L201.62,431.41 L203.74,431.94 L205.85,432.24 L207.96,432.39 L210.08,432.28 L212.19,432.55 L214.30,432.60 L216.50,432.98 L218.70,433.03 L220.90,433.02 L223.10,433.03 L225.30,433.20 L227.48,433.45 L229.66,433.48 L231.84,433.73 L234.02,434.27 L236.20,434.40 L238.38,434.97 L240.55,434.98 L242.72,435.17 L244.90,435.41 L247.07,435.75 L249.25,436.23 L251.42,436.30 L253.60,436.60 L255.88,437.14 L258.17,436.93 L260.45,437.29 L262.73,437.68 L265.02,437.88 L267.30,438.20 L269.57,438.94 L271.83,439.46 L274.10,440.06 L276.37,440.40 L278.63,440.59 L280.90,441.40 L283.17,441.81 L285.43,442.16 L287.70,442.49 L289.97,442.73 L292.23,443.36 L294.50,443.60 L296.80,444.31 L299.10,444.28 L301.40,445.08 L303.70,445.36 L306.00,445.90" fill="none" stroke="#48b24e" stroke-width="2.0" stroke-linejoin="round" stroke-linecap="round"/>
<text transform="translate(201.40,495.80) scale(0.91,1)" font-size="6.264"><tspan font-style="italic">ANGPTL8</tspan> expression level</text>
<line x1="199.80" y1="503.20" x2="207.50" y2="503.20" stroke="#3a1736" stroke-width="1.0"/>
<text transform="translate(209.30,505.30) scale(0.91,1)" font-size="6.373626373626373" text-anchor="start" letter-spacing="-0.33">Low (n=1419)</text>
<line x1="199.80" y1="511.70" x2="207.50" y2="511.70" stroke="#3f7c8c" stroke-width="1.0"/>
<text transform="translate(209.30,513.80) scale(0.91,1)" font-size="6.373626373626373" text-anchor="start" >Intermediate (n=1460)</text>
<line x1="199.80" y1="520.00" x2="207.50" y2="520.00" stroke="#48b24e" stroke-width="1.0"/>
<text transform="translate(210.50,522.10) scale(0.91,1)" font-size="6.373626373626373" text-anchor="start" >High (n=1428)</text>
<text transform="translate(305.60,523.60) scale(0.87,1)" font-size="7.586206896551724" text-anchor="end" >p = 0.019</text>
</svg>
</body></html>
